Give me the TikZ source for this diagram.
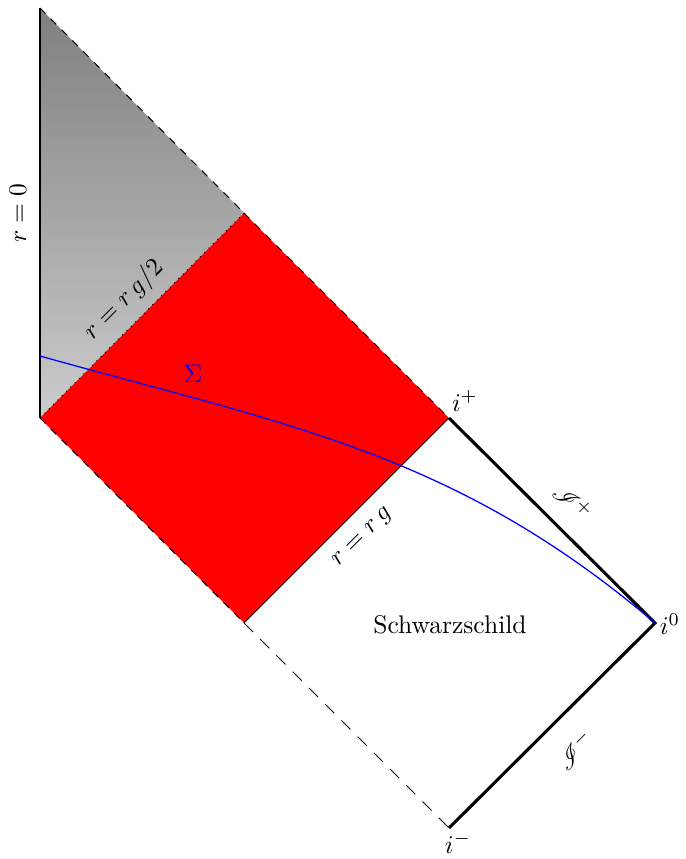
\documentclass[tikz,border=0pt]{standalone}
\usepackage{mathrsfs}
\begin{document}
\begin{tikzpicture}[x=0.392pt,y=-0.392pt,
  thinline/.style={line width=0.4pt},
  boundary/.style={line width=1.2pt},
  lbl/.style={inner sep=0pt}]
\useasboundingbox (0,0) rectangle (685,859);
% points
\coordinate (T) at (40,8);
\coordinate (L) at (40,418);
\coordinate (U) at (244,213);
\coordinate (D) at (244,623);
\coordinate (P) at (449,418);
\coordinate (Z) at (655,623);
\coordinate (M) at (449,828);
% fills
\shade[top color=black!50, bottom color=black!20] (T) -- (U) -- (L) -- cycle;
\fill[red] (L) -- (U) -- (P) -- (D) -- cycle;
% edges
\draw[thinline] (T) -- (L);
\draw[thinline,dashed] (T) -- (U);
\draw[thinline,dotted] (U) -- (L);
\draw[thinline,dashed] (U) -- (P);
\draw[thinline,dashed] (L) -- (D);
\draw[thinline] (D) -- (P);
\draw[thinline,dash pattern=on 5pt off 4pt] (D) -- (M);
\draw[boundary] (P) -- (Z) -- (M);
% Sigma curve
\draw[blue,line width=0.5pt] (40,356) .. controls (290,426) and (455,453) .. (Z);
% labels
\node[lbl,rotate=90] (r0) at (18,213) {$r=0$};
\node[lbl,rotate=45] (rg2) at (124,300) {$r=r\,g/2$};
\node[lbl,blue] (sig) at (193,374) {$\Sigma$};
\node[lbl,rotate=45] (rg) at (363,538) {$r=r\,g$};
\node[lbl] (sch) at (450,625) {Schwarzschild};
\node[lbl] (ip) at (465,401) {$i^+$};
\node[lbl] (i0) at (670,624) {$i^0$};
\node[lbl] (im) at (458,843) {$i^-$};
\node[lbl,rotate=-45] (scp) at (573,502) {$\mathscr{I}^+$};
\node[lbl,rotate=45] (scm) at (575,750) {$\mathscr{I}^-$};
\end{tikzpicture}
\end{document}
